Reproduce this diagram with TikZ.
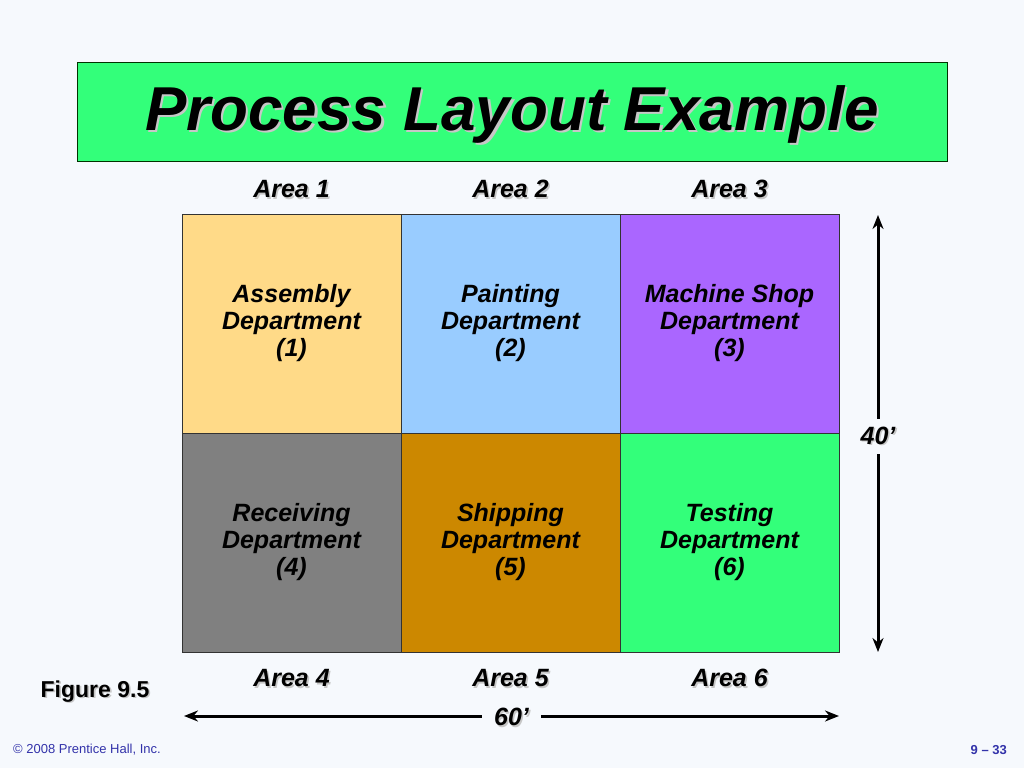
\documentclass[tikz,border=0pt]{standalone}
\usepackage{fontspec}
\setmainfont{Liberation Sans}
\usetikzlibrary{positioning,arrows.meta}

\definecolor{bgc}{RGB}{246,249,253}
\definecolor{greenc}{RGB}{51,255,122}
\definecolor{assemc}{RGB}{255,218,136}
\definecolor{paintc}{RGB}{153,204,255}
\definecolor{machc}{RGB}{170,102,255}
\definecolor{recvc}{RGB}{128,128,128}
\definecolor{shipc}{RGB}{204,136,0}
\definecolor{footc}{RGB}{51,51,170}

\newcommand\shtxt[2][1.6pt]{\leavevmode\rlap{\kern#1\raisebox{-#1}{\color{black!22}#2}}#2}

\begin{document}
\begin{tikzpicture}[x=1pt,y=-1pt,>={Stealth[length=14pt,width=11pt]},
    dept/.style={draw=black!80,line width=1pt,outer sep=0pt,inner sep=0pt,minimum width=219pt,minimum height=219pt,align=center,font=\fontsize{25}{27}\selectfont\bfseries\itshape},
    arealbl/.style={inner sep=0pt,font=\fontsize{25}{27}\selectfont\bfseries\itshape},
    dimline/.style={line width=3pt,<->}]
    \fill[bgc] (0,0) rectangle (1024,768);

    \node[draw=black!60!green!50!black,line width=1pt,fill=greenc,minimum width=870pt,minimum height=99pt,text height=50pt,text depth=13pt,font=\fontsize{62}{70}\selectfont\bfseries\itshape] (title) at (512,111.5) {\shtxt[2.5pt]{Process Layout Example}};

    % departments
    \node[dept,fill=assemc] (d1) at (291.5,323.5) {Assembly\\Department\\(1)};
    \node[dept,fill=paintc,right=0pt of d1] (d2) {Painting\\Department\\(2)};
    \node[dept,fill=machc,right=0pt of d2] (d3) {Machine Shop\\Department\\(3)};
    \node[dept,fill=recvc,below=0pt of d1] (d4) {Receiving\\Department\\(4)};
    \node[dept,fill=shipc,right=0pt of d4] (d5) {Shipping\\Department\\(5)};
    \node[dept,fill=greenc,right=0pt of d5] (d6) {Testing\\Department\\(6)};

    \foreach \i in {1,2,3} \node[arealbl] (a\i) at ([yshift=24pt]d\i.north) {\shtxt{Area \i}};
    \foreach \i in {4,5,6} \node[arealbl] (a\i) at ([yshift=-27pt]d\i.south) {\shtxt{Area \i}};

    % dimensions
    \coordinate (v1) at (878,215);
    \coordinate (v2) at (878,652);
    \draw[dimline] (v1) -- node[arealbl,fill=bgc,inner xsep=4pt,inner ysep=8pt,yshift=-3pt] (h40) {\shtxt{40’}} (v2);
    \coordinate (w1) at (184,716);
    \coordinate (w2) at (839,716);
    \draw[dimline] (w1) -- node[arealbl,fill=bgc,inner xsep=12pt,inner ysep=4pt,yshift=-2pt] (w60) {\shtxt{60’}} (w2);

    \node[font=\fontsize{23}{26}\selectfont\bfseries] (fig) at (95,692) {\shtxt{Figure 9.5}};
    \node[anchor=west,inner sep=0pt,text=footc,font=\fontsize{13}{15}\selectfont] (copy) at (13,750) {© 2008 Prentice Hall, Inc.};
    \node[anchor=east,inner sep=0pt,text=footc,font=\fontsize{13}{15}\selectfont\bfseries] (page) at (1007,750) {9 – 33};
\end{tikzpicture}
\end{document}
